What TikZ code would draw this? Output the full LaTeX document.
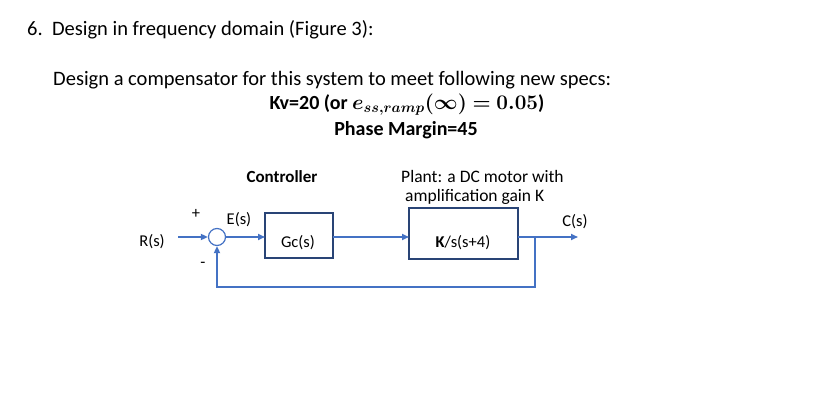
\documentclass[tikz,border=0pt]{standalone}
\usepackage{amsmath,bm}
\usepackage{fontspec}
\setmainfont{Carlito}
\usetikzlibrary{arrows.meta}
\definecolor{lb}{HTML}{4472C4}
\begin{document}
\begin{tikzpicture}[x=1pt,y=-1pt,
  line/.style={draw=lb,line width=1.6pt},
  arr/.style={line,-{Triangle[length=7pt,width=6pt]}},
  blk/.style={draw=lb!60!black,line width=1.3pt,minimum height=0},
  lab/.style={font=\fontsize{16.5}{19}\selectfont,inner sep=0pt}]
\useasboundingbox (0,0) rectangle (825,404);
\node[anchor=west,inner sep=0pt,font=\fontsize{20.5}{24}\selectfont] (t1) at (27,30) {6.\ \ Design in frequency domain (Figure 3):};
\node[anchor=west,inner sep=0pt,font=\fontsize{20.5}{24}\selectfont] (t2) at (53,80) {Design a compensator for this system to meet following new specs:};
\node[inner sep=0pt,font=\fontsize{20}{24}\selectfont\bfseries] (t3) at (407,105) {Kv=20 (or $\bm{e_{ss,ramp}(\infty)=0.05}$)};
\node[inner sep=0pt,font=\fontsize{20}{24}\selectfont\bfseries] (t4) at (406,130) {Phase Margin=45};
\node[lab,font=\fontsize{17}{20}\selectfont\bfseries] (ctl) at (282,177) {Controller};
\node[lab,anchor=west,font=\fontsize{17.5}{20}\selectfont] (pl1) at (401,176) {Plant: a DC motor with};
\node[lab,anchor=west,font=\fontsize{17.5}{20}\selectfont] (pl2) at (405,197) {amplification gain K};
\draw[blk] (265,213) rectangle (333,258);
\draw[blk] (409,208) rectangle (518,259);
\node[lab] (gc) at (298,243) {Gc(s)};
\node[lab] (pk) at (463,243) {\textbf{K}/s(s+4)};
\coordinate (gcin) at (265,237);
\coordinate (gcout) at (333,237);
\coordinate (pin) at (409,237);
\coordinate (pout) at (518,237);
\node[draw=lb,line width=1.2pt,circle,minimum size=17pt,inner sep=0pt] (sum) at (217,237) {};
\node[lab] (r) at (152,242) {R(s)};
\coordinate (rr) at (178,237);
\node[lab] (plus) at (196,214) {+};
\node[lab] (minus) at (203,265) {-};
\node[lab] (e) at (239,220) {E(s)};
\node[lab] (c) at (575,222) {C(s)};
\coordinate (cout) at (578,237);
\coordinate (br) at (535,237);
\coordinate (b1) at (535,287);
\coordinate (b2) at (217,287);
\draw[arr] (rr) -- (sum.west);
\draw[arr] (sum.east) -- (gcin);
\draw[arr] (gcout) -- (pin);
\draw[arr] (pout) -- (cout);
\draw[arr] (br) -- (b1) -- (b2) -- (sum.south);
\end{tikzpicture}
\end{document}
